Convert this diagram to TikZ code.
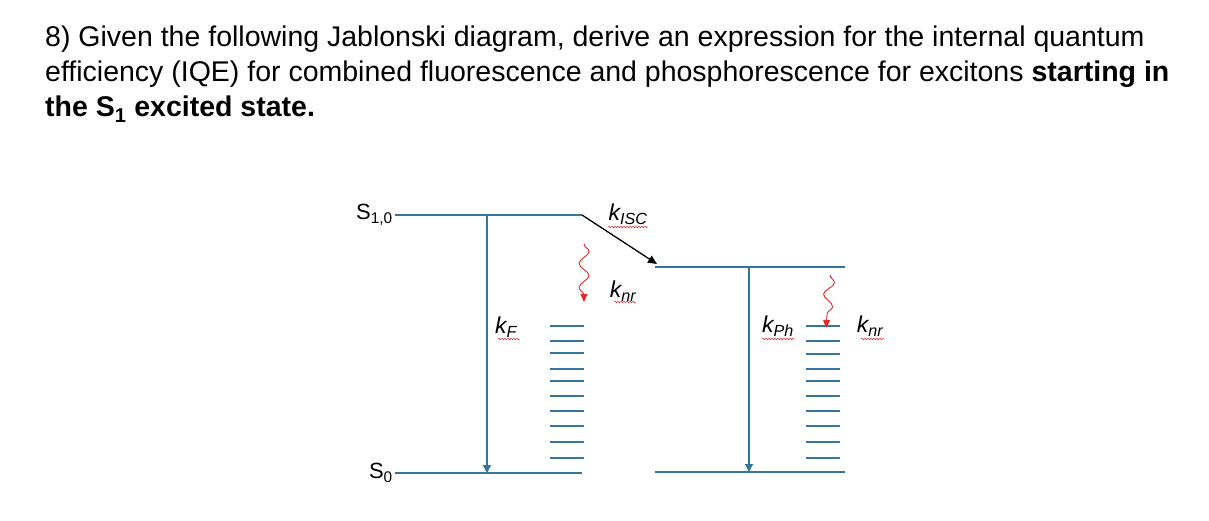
\documentclass[tikz,border=0pt]{standalone}
\usepackage{fontspec}
\setmainfont{Liberation Sans}
\usetikzlibrary{decorations.pathmorphing,arrows.meta}
\definecolor{lev}{RGB}{52,118,155}
\definecolor{wav}{RGB}{225,40,40}
\begin{document}
\begin{tikzpicture}[x=1pt,y=-1pt,
  level/.style={draw=lev,line width=1.6pt},
  rung/.style={draw=lev,line width=1.4pt},
  emit/.style={draw=lev,line width=1.2pt,-{Triangle[length=8pt,width=8pt]}},
  wavy/.style={draw=wav,line width=0.9pt,decorate,decoration={snake,amplitude=5pt,segment length=24pt,post length=6pt},-{Triangle[length=8pt,width=7pt]}},
  lab/.style={font=\fontsize{23}{26}\selectfont\itshape,inner sep=0pt},
  spell/.style={draw=wav,line width=0.5pt,decorate,decoration={snake,amplitude=0.8pt,segment length=3pt}}]
\useasboundingbox (0,0) rectangle (1209,521);
\node[anchor=north west,align=left,inner sep=0pt,font=\fontsize{28.5}{35}\selectfont] (q) at (45,26)
{8) Given the following Jablonski diagram, derive an expression for the internal quantum\\ efficiency (IQE) for combined fluorescence and phosphorescence for excitons \textbf{starting in}\\ \textbf{the S\textsubscript{1} excited state.}};
% left
\coordinate (s1a) at (395,215); \coordinate (s1b) at (582,215);
\coordinate (s0a) at (395,473); \coordinate (s0b) at (582,473);
\draw[level] (s1a) -- (s1b);
\draw[level] (s0a) -- (s0b);
\node[anchor=east,font=\fontsize{22}{24}\selectfont,inner sep=2pt] (ls1) at (s1a) {S\textsubscript{1,0}};
\node[anchor=east,font=\fontsize{22}{24}\selectfont,inner sep=2pt] (ls0) at (s0a) {S\textsubscript{0}};
\coordinate (fa) at (487,215); \coordinate (fb) at (487,473);
\draw[emit] (fa) -- (fb);
\foreach \y in {326,341,353,369,381,396,411,426,442,458} \draw[rung] (550,\y) -- (584,\y);
\coordinate (w1a) at (584,244); \coordinate (w1b) at (584,302);
\draw[wavy] (w1a) -- (w1b);
\node[lab] (kF) at (506,327) {k\textsubscript{F}};
\draw[spell] (498,339) -- (520,339);
\node[lab] (knr1) at (623,291) {k\textsubscript{nr}};
\draw[spell] (614,302) -- (636,302);
% right
\coordinate (t1a) at (655,267); \coordinate (t1b) at (845,267);
\coordinate (t0a) at (655,472); \coordinate (t0b) at (845,472);
\draw[level] (t1a) -- (t1b);
\draw[level] (t0a) -- (t0b);
\draw[black,line width=1.3pt,-{Triangle[length=9pt,width=8pt]}] (s1b) -- (657,264);
\node[lab] (kisc) at (628,214) {k\textsubscript{ISC}};
\draw[spell] (608,227) -- (648,227);
\coordinate (pa) at (749,267); \coordinate (pb) at (749,472);
\draw[emit] (pa) -- (pb);
\foreach \y in {326,341,354,369,381,396,411,426,442,458} \draw[rung] (806,\y) -- (840,\y);
\coordinate (w2a) at (830,275); \coordinate (w2b) at (826,328);
\draw[wavy] (w2a) -- (w2b);
\node[lab] (kph) at (778,326) {k\textsubscript{Ph}};
\draw[spell] (762,339) -- (795,339);
\node[lab] (knr2) at (870,326) {k\textsubscript{nr}};
\draw[spell] (861,339) -- (884,339);
\end{tikzpicture}
\end{document}
